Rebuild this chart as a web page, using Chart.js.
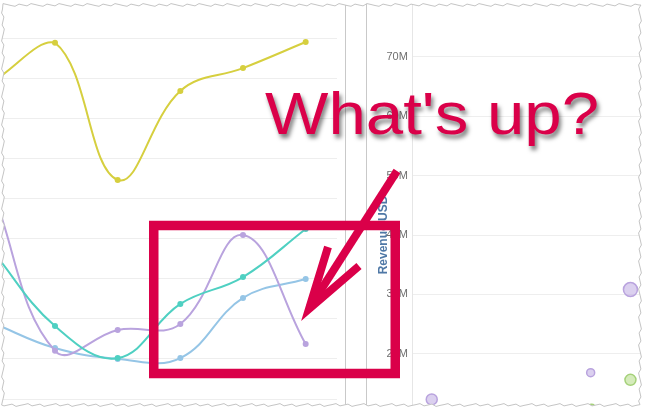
<!DOCTYPE html>
<html><head><meta charset="utf-8">
<script src="https://cdn.jsdelivr.net/npm/chart.js@4/dist/chart.umd.min.js"></script>
<style>
html,body{margin:0;padding:0;background:#fff;}
#stage{position:relative;width:647px;height:411px;overflow:hidden;background:#fff;font-family:'Liberation Sans',Arial,sans-serif;}
#leftWrap{position:absolute;left:-39px;top:38px;width:376px;height:361px;}
#rightWrap{position:absolute;left:360px;top:-10px;width:300px;height:500px;}
.vline{position:absolute;top:0;width:1px;height:411px;background:#c9c9c9;}
#note{position:absolute;left:265px;top:84px;font-size:60px;line-height:60px;color:#da0049;white-space:nowrap;transform:scaleX(1.12);transform-origin:0 0;text-shadow:2px 4px 4px rgba(0,0,0,0.5);}
svg{position:absolute;left:0;top:0;}
</style></head>
<body>
<div id="stage">
  <div id="leftWrap"><canvas id="left"></canvas></div>
  <div class="vline" style="left:345px"></div>
  <div class="vline" style="left:366px"></div>
  <div id="rightWrap"><canvas id="right"></canvas></div>
  <svg width="647" height="411" id="annot">
    <rect x="153.75" y="225.5" width="241.5" height="148" fill="none" stroke="#da0049" stroke-width="9.5"/>
    <line x1="397" y1="171" x2="310" y2="307" stroke="#da0049" stroke-width="8"/>
    <polyline points="328,247 309,309 359,266" fill="none" stroke="#da0049" stroke-width="8" stroke-linejoin="miter" stroke-miterlimit="10"/>
  </svg>
  <div id="note">What's up?</div>
  <svg width="647" height="411" id="edge"></svg>
</div>
<script>
// ---- left line chart data ----
const categories = ['P1','P2','P3','P4','P5','P6'];
const yellowSeries = [79.0, 88.8, 54.6, 76.8, 82.5, 89.0];
const tealSeries   = [37.0, 18.2, 10.2, 23.7, 30.4, 42.4];
const purpleSeries = [52.0, 12.0, 17.2, 18.7, 40.9, 13.7];
const blueSeries   = [19.0, 12.7, 10.0, 10.2, 25.2, 29.9];
const leftTicks = [0, 90, 10]; // min, max, step

// ---- right bubble chart data ----
const revenueTicks = [0, 80, 10]; // millions: min, max, step
const purpleBubbles = [
  {x: 7.9,  y: 12.3e6, r: 5.5},
  {x: 74.2, y: 16.8e6, r: 4},
  {x: 90.8, y: 30.8e6, r: 7}
];
const greenBubbles = [
  {x: 74.6, y: 10.8e6, r: 4},
  {x: 90.8, y: 15.6e6, r: 5.5}
];

function lineDs(data, color){
  return {data, borderColor: color, backgroundColor: color, borderWidth: 2,
    pointRadius: 3, pointHoverRadius: 3, pointBorderWidth: 0, tension: 0.4, fill: false};
}

const leftChart = new Chart(document.getElementById('left'), {
  type: 'line',
  data: {labels: categories, datasets: [
    lineDs(yellowSeries, '#d6cf3f'),
    lineDs(tealSeries, '#4fd0c2'),
    lineDs(purpleSeries, '#b9a3de'),
    lineDs(blueSeries, '#95c5e6')
  ]},
  options: {
    responsive: true, maintainAspectRatio: false, animation: false,
    layout: {padding: 0},
    plugins: {legend: {display: false}, tooltip: {enabled: false}},
    scales: {
      x: {display: false, offset: true},
      y: {min: leftTicks[0], max: leftTicks[1], ticks: {display: false, stepSize: leftTicks[2]},
          grid: {color: '#eeeeee', drawTicks: false}, border: {display: false}}
    }
  }
});

const rightChart = new Chart(document.getElementById('right'), {
  type: 'bubble',
  data: {datasets: [
    {data: purpleBubbles, backgroundColor: 'rgba(190,170,225,0.55)', borderColor: '#b9a3de', borderWidth: 1.5},
    {data: greenBubbles, backgroundColor: 'rgba(190,225,150,0.65)', borderColor: '#a5d17a', borderWidth: 1.5}
  ]},
  options: {
    responsive: true, maintainAspectRatio: false, animation: false,
    layout: {padding: 0},
    plugins: {legend: {display: false}, tooltip: {enabled: false}},
    scales: {
      x: {type: 'linear', min: 0, max: 100, display: false},
      y: {min: revenueTicks[0]*1e6, max: revenueTicks[1]*1e6,
          ticks: {stepSize: revenueTicks[2]*1e6, color: '#6f6f6f', padding: 5,
                  font: {family: 'Liberation Sans', size: 11},
                  callback: v => (v/1e6) + 'M'},
          grid: {color: '#eeeeee', drawTicks: false},
          border: {color: '#e6e6e6'},
          title: {display: true, text: 'Revenue USD', color: '#4f78a6',
                  font: {family: 'Liberation Sans', size: 12, weight: 'bold'}, padding: {top: 0, bottom: -9}}}
    }
  }
});

function fit(chart, wrap, fx, fy){
  const X = chart.scales.x, Y = chart.scales.y;
  let w = wrap.offsetWidth, h = wrap.offsetHeight;
  const sx = (fx[3]-fx[1]) / (X.getPixelForValue(fx[2]) - X.getPixelForValue(fx[0]));
  const sy = (fy[3]-fy[1]) / (Y.getPixelForValue(fy[2]) - Y.getPixelForValue(fy[0]));
  w = Math.round(w + chart.chartArea.width*(sx-1));
  h = Math.round(h + chart.chartArea.height*(sy-1));
  wrap.style.width = w + 'px'; wrap.style.height = h + 'px';
  chart.resize();
  const px = X.getPixelForValue(fx[0]), py = Y.getPixelForValue(fy[0]);
  wrap.style.left = (fx[1] - px) + 'px';
  wrap.style.top = (fy[1] - py) + 'px';
}
fit(leftChart, document.getElementById('leftWrap'), [0, -7.5, 5, 306], [90, 38, 0, 399]);
fit(rightChart, document.getElementById('rightWrap'), [0, 413, 100, 653], [70e6, 57, 20e6, 354]);

// torn-paper edge (decoration)
(function(){
  const L=3, T=5, R=640, B=405;
  const j = i => (((i*37)%7) - 3) * 0.45;
  let pts = [], i = 0;
  for (let x=L; x<R; x+=4) pts.push([x, T + j(i++)]);
  for (let y=T; y<B; y+=4) pts.push([R + j(i++), y]);
  for (let x=R; x>L; x-=4) pts.push([x, B + j(i++)]);
  for (let y=B; y>T; y-=4) pts.push([L + j(i++), y]);
  const d = 'M' + pts.map(p => p[0].toFixed(1)+','+p[1].toFixed(1)).join('L') + 'Z';
  const svg = document.getElementById('edge');
  svg.innerHTML = '<path d="M0,0H647V411H0Z ' + d + '" fill="#fff" fill-rule="evenodd"/>' +
                  '<path d="' + d + '" fill="none" stroke="#c4c4c4" stroke-width="1"/>';
})();
</script>
</body></html>
